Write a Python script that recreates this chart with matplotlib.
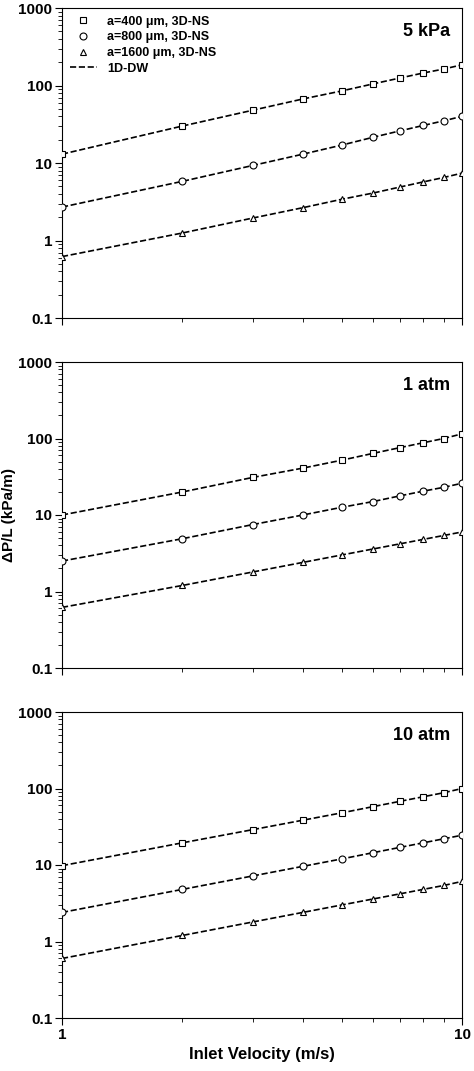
import matplotlib
matplotlib.use("Agg")
import matplotlib.pyplot as plt
from matplotlib.ticker import FixedLocator, FixedFormatter, NullFormatter, LogLocator

plt.rcParams['font.family'] = ['Liberation Sans', 'DejaVu Sans']
plt.rcParams['font.weight'] = 'bold'

velocity = [1, 2, 3, 4, 5, 6, 7, 8, 9, 10]
titles = ["5 kPa", "1 atm", "10 atm"]
labels = ["a=400 μm, 3D-NS", "a=800 μm, 3D-NS", "a=1600 μm, 3D-NS"]
markers = ["s", "o", "^"]

p5kpa_400 = [13, 30, 48, 67, 85, 105, 125, 145, 163, 185]
p5kpa_800 = [2.7, 5.8, 9.3, 13, 17, 21.5, 26, 30.5, 35, 40]
p5kpa_1600 = [0.62, 1.25, 1.95, 2.65, 3.4, 4.1, 4.9, 5.7, 6.5, 7.4]
p1atm_400 = [10, 20, 31, 41, 52, 64, 76, 88, 100, 115]
p1atm_800 = [2.5, 4.9, 7.5, 10, 12.6, 15, 17.8, 20.5, 23, 26]
p1atm_1600 = [0.62, 1.2, 1.8, 2.4, 3.0, 3.6, 4.2, 4.8, 5.4, 6.0]
p10atm_400 = [9.8, 19.5, 29, 38.5, 48, 58, 68, 78, 88, 100]
p10atm_800 = [2.4, 4.8, 7.2, 9.6, 12, 14.5, 17, 19.5, 22, 24.5]
p10atm_1600 = [0.6, 1.2, 1.8, 2.4, 3.0, 3.6, 4.2, 4.8, 5.4, 6.1]

panels = [[p5kpa_400, p5kpa_800, p5kpa_1600],
          [p1atm_400, p1atm_800, p1atm_1600],
          [p10atm_400, p10atm_800, p10atm_1600]]

fig = plt.figure(figsize=(4.74, 10.71), dpi=100)
W, H = 474, 1071
boxes = [(8, 318), (362, 668), (712, 1018)]
left, right = 62, 462
axes = []
for i, ((top, bot), series, title) in enumerate(zip(boxes, panels, titles)):
    ax = fig.add_axes([left / W, 1 - bot / H, (right - left) / W, (bot - top) / H])
    axes.append(ax)
    for j, (ys, m) in enumerate(zip(series, markers)):
        ax.plot(velocity, ys, linestyle='none', marker=m, markersize=5, mfc='white',
                mec='black', mew=0.8, label=labels[j], zorder=3)
    for j, ys in enumerate(series):
        ax.plot(velocity, ys, 'k--', lw=1.2, label="1D-DW" if j == 0 else None, zorder=2)
    ax.set_xscale('log'); ax.set_yscale('log')
    ax.set_xlim(1, 10); ax.set_ylim(0.1, 1000)
    ax.yaxis.set_major_locator(FixedLocator([0.1, 1, 10, 100, 1000]))
    ax.yaxis.set_major_formatter(FixedFormatter(["0.1", "1", "10", "100", "1000"]))
    ax.yaxis.set_minor_locator(LogLocator(subs=range(2, 10)))
    ax.yaxis.set_minor_formatter(NullFormatter())
    ax.xaxis.set_major_locator(FixedLocator([1, 10]))
    ax.xaxis.set_major_formatter(FixedFormatter(["1", "10"]))
    ax.xaxis.set_minor_locator(LogLocator(subs=range(2, 10)))
    ax.xaxis.set_minor_formatter(NullFormatter())
    ax.tick_params(which='both', direction='out', labelsize=11, pad=2)
    ax.tick_params(which='major', length=5)
    ax.tick_params(which='minor', length=3)
    if i < 2:
        ax.tick_params(axis='x', labelbottom=False)
    ax.text(0.97, 0.95, title, transform=ax.transAxes, ha='right', va='top',
            fontsize=13, fontweight='bold')

axes[0].legend(loc='upper left', frameon=False, fontsize=9, handlelength=2.2,
               borderaxespad=0.2, labelspacing=0.3)
axes[1].set_ylabel("ΔP/L (kPa/m)", fontsize=11, fontweight='bold', labelpad=2)
axes[2].set_xlabel("Inlet Velocity (m/s)", fontsize=12, fontweight='bold')
fig.savefig("out.png", dpi=100)
